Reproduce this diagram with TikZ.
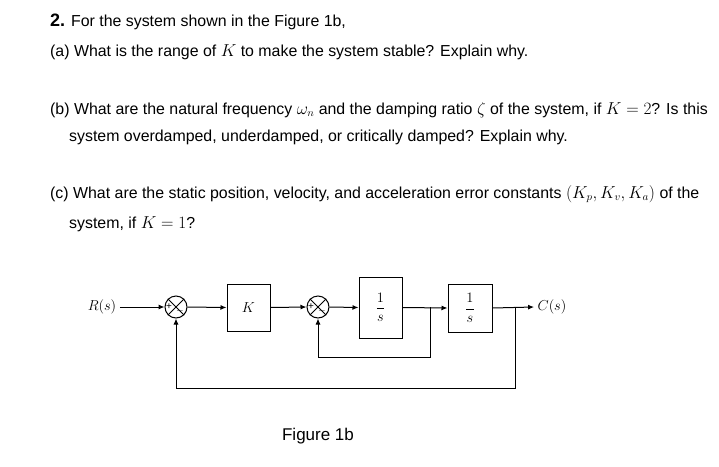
\documentclass[tikz,border=0pt]{standalone}
\usepackage{fontspec}
\setmainfont{Liberation Sans}
\usetikzlibrary{arrows.meta}
\begin{document}
\begin{tikzpicture}[x=1pt,y=-1pt,
  txt/.style={anchor=base west,inner sep=0pt,font=\fontsize{15.9}{18}\selectfont},
  blk/.style={draw,line width=1pt,inner sep=0pt},
  sumc/.style={draw,circle,line width=1pt,minimum size=22pt,inner sep=0pt},
  ln/.style={line width=1pt},
  arr/.style={ln,-{Latex[length=6pt,width=5pt]}},
  mth/.style={font=\fontsize{15}{17}\selectfont}]
\useasboundingbox (0,0) rectangle (719,466);
\node[txt] (l0) at (50,26) {{\fontsize{18}{20}\selectfont\textbf{2.}} For the system shown in the Figure 1b,};
\node[txt] (l1) at (50,56) {(a) What is the range of $K$ to make the system stable? Explain why.};
\node[txt] (l2) at (50,114) {(b) What are the natural frequency $\omega_n$ and the damping ratio $\zeta$ of the system, if $K=2$? Is this};
\node[txt] (l3) at (69,141) {system overdamped, underdamped, or critically damped? Explain why.};
\node[txt] (l4) at (50,198) {(c) What are the static position, velocity, and acceleration error constants $(K_p,K_v,K_a)$ of the};
\node[txt] (l5) at (69,228) {system, if $K=1$?};
\node[anchor=base,inner sep=0pt,font=\fontsize{17}{19}\selectfont] (fig) at (318,440) {Figure 1b};

\node[mth] (R) at (102,307) {$R(s)$};
\node[sumc] (s1) at (176,307) {};
\draw[ln] (s1.north west)--(s1.south east) (s1.north east)--(s1.south west);
\node[blk,minimum width=43pt,minimum height=47pt,mth] (Kb) at (248.5,307.5) {$K$};
\node[sumc] (s2) at (318,307) {};
\draw[ln] (s2.north west)--(s2.south east) (s2.north east)--(s2.south west);
\node[blk,minimum width=43pt,minimum height=61pt,mth] (b2) at (380.5,307.5) {$\displaystyle\frac{1}{s}$};
\node[blk,minimum width=44pt,minimum height=48pt,mth] (b3) at (470,308) {$\displaystyle\frac{1}{s}$};
\node[mth] (C) at (552,307) {$C(s)$};
\node[font=\fontsize{10}{10}\selectfont,inner sep=0pt] (p1) at (169,307) {+};
\node[font=\fontsize{10}{10}\selectfont,inner sep=0pt] (m1) at (180,311) {$-$};
\node[font=\fontsize{10}{10}\selectfont,inner sep=0pt] (p2) at (311,307) {+};
\node[font=\fontsize{10}{10}\selectfont,inner sep=0pt] (m2) at (322,311) {$-$};
\coordinate (j1) at (430,307);
\coordinate (j2) at (515,307);
\draw[arr] (R.east)--(s1.west);
\draw[arr] (s1.east)--(Kb.west);
\draw[arr] (Kb.east)--(s2.west);
\draw[arr] (s2.east)--(b2.west);
\draw[arr] (b2.east)--(b3.west);
\draw[arr] (b3.east)--(C.west);
\draw[arr] (j1)--(430,357)-|(s2.south);
\draw[arr] (j2)--(515,388)-|(s1.south);
\end{tikzpicture}
\end{document}
